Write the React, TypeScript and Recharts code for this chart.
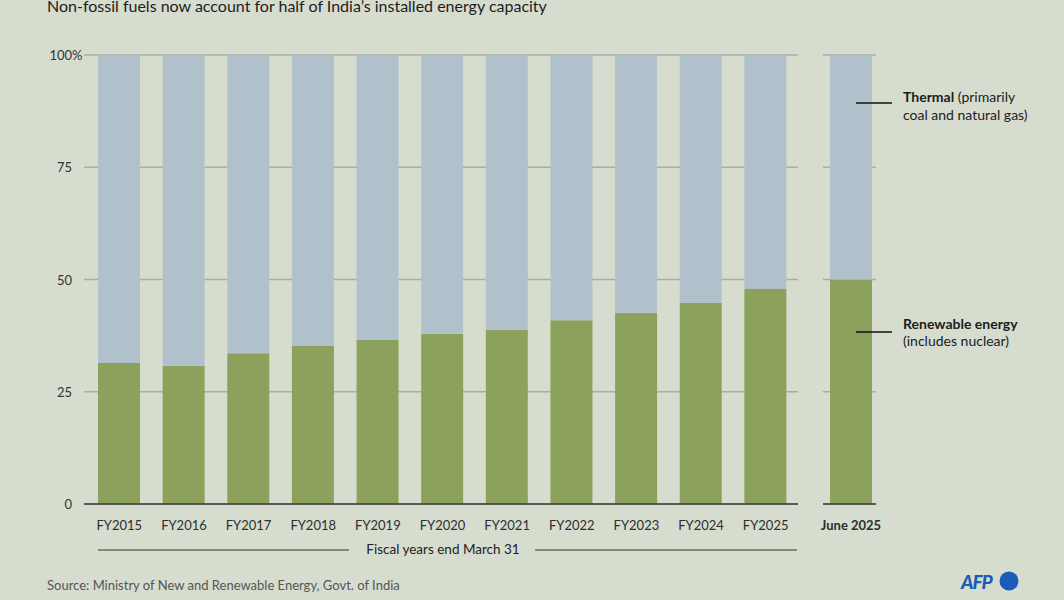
import React from "react";
import { BarChart, Bar, XAxis, YAxis, CartesianGrid } from "recharts";

const years = ["FY2015", "FY2016", "FY2017", "FY2018", "FY2019", "FY2020", "FY2021", "FY2022", "FY2023", "FY2024", "FY2025"];
const renewable = [31.4, 30.8, 33.6, 35.2, 36.6, 37.9, 38.8, 40.9, 42.6, 44.8, 47.9];
const latestLabel = ["June 2025"];
const latestRenewable = [50.0];
const yTicks = [0, 25, 50, 75, 100];

const mainData = years.map((y, i) => ({ name: y, renewable: renewable[i], thermal: 100 - renewable[i] }));
const latestData = latestLabel.map((y, i) => ({ name: y, renewable: latestRenewable[i], thermal: 100 - latestRenewable[i] }));

const BG = "#d6ddcf";
const GREEN = "#8ca25c";
const BLUE = "#b1c1cb";
const GRID = "#a9aea4";
const FONT = "Lato, 'Noto Sans', sans-serif";

const YTick = (props: any) => {
  const { y, payload } = props;
  const v = payload.value;
  return (
    <g>
      <text x={72} y={y} dy={5} textAnchor="end" fontSize={13} fill="#333" fontFamily={FONT}>{v}</text>
      {v === 100 ? <text x={72} y={y} dy={5} textAnchor="start" fontSize={13} fill="#333" fontFamily={FONT}>%</text> : null}
    </g>
  );
};

const XTick = (bold: boolean) => (props: any) => {
  const { x, y, payload } = props;
  return (
    <text x={x} y={y} dy={18} textAnchor="middle" fontSize={13} fill="#2e2e2e" fontWeight={bold ? 700 : 400} fontFamily={FONT}>
      {payload.value}
    </text>
  );
};

export default function App() {
  return (
    <div style={{ position: "absolute", left: 0, top: 0, width: 1064, height: 600, background: BG, overflow: "hidden", fontFamily: FONT }}>
      <div style={{ position: "absolute", left: 0, top: 0 }}>
        <BarChart width={798} height={540} data={mainData} margin={{ top: 55, right: 0, left: 0, bottom: 0 }} barSize={42}>
          <CartesianGrid vertical={false} stroke={GRID} strokeWidth={1.5} />
          <XAxis dataKey="name" padding={{ left: 3, right: 0 }} tickLine={false} axisLine={{ stroke: "#3a3a3a", strokeWidth: 1.5 }} tick={XTick(false)} height={36} interval={0} />
          <YAxis domain={[0, 100]} ticks={yTicks} width={84} tickLine={false} axisLine={false} tick={<YTick />} />
          <Bar dataKey="renewable" stackId="a" fill={GREEN} isAnimationActive={false} />
          <Bar dataKey="thermal" stackId="a" fill={BLUE} isAnimationActive={false} />
        </BarChart>
      </div>
      <div style={{ position: "absolute", left: 793, top: 0 }}>
        <BarChart width={113} height={540} data={latestData} margin={{ top: 55, right: 30, left: 30, bottom: 0 }} barSize={42}>
          <CartesianGrid vertical={false} stroke={GRID} strokeWidth={1.5} />
          <XAxis dataKey="name" padding={{ left: 3, right: 0 }} tickLine={false} axisLine={{ stroke: "#3a3a3a", strokeWidth: 1.5 }} tick={XTick(true)} height={36} interval={0} />
          <YAxis domain={[0, 100]} ticks={yTicks} hide />
          <Bar dataKey="renewable" stackId="a" fill={GREEN} isAnimationActive={false} />
          <Bar dataKey="thermal" stackId="a" fill={BLUE} isAnimationActive={false} />
        </BarChart>
      </div>
      <svg width={1064} height={600} style={{ position: "absolute", left: 0, top: 0, pointerEvents: "none" }}>
        <text x={47} y={12} fontSize={16} fill="#1c1c1c" fontFamily={FONT}>Non-fossil fuels now account for half of India’s installed energy capacity</text>
        <line x1={856} x2={892} y1={103} y2={103} stroke="#111" strokeWidth={1.5} />
        <text x={903} y={102} fontSize={14} fill="#1c1c1c" fontFamily={FONT}>
          <tspan fontWeight={700}>Thermal</tspan> (primarily
        </text>
        <text x={903} y={120} fontSize={14} fill="#1c1c1c" fontFamily={FONT}>coal and natural gas)</text>
        <line x1={856} x2={892} y1={332} y2={332} stroke="#111" strokeWidth={1.5} />
        <text x={903} y={329} fontSize={14} fill="#1c1c1c" fontWeight={700} fontFamily={FONT}>Renewable energy</text>
        <text x={903} y={346} fontSize={14} fill="#1c1c1c" fontFamily={FONT}>(includes nuclear)</text>
        <line x1={98} x2={349} y1={550} y2={550} stroke="#333" strokeWidth={1} />
        <text x={443} y={554} fontSize={13.5} fill="#222" textAnchor="middle" fontFamily={FONT}>Fiscal years end March 31</text>
        <line x1={535} x2={797} y1={550} y2={550} stroke="#333" strokeWidth={1} />
        <text x={47} y={590} fontSize={13} fill="#555" fontFamily={FONT}>Source: Ministry of New and Renewable Energy, Govt. of India</text>
        <text x={961} y={589} fontSize={19} fontWeight={900} fontStyle="italic" fill="#1b5cb8" fontFamily={FONT} letterSpacing={-1}>AFP</text>
        <circle cx={1009} cy={581} r={9.5} fill="#1b5cb8" />
      </svg>
    </div>
  );
}
